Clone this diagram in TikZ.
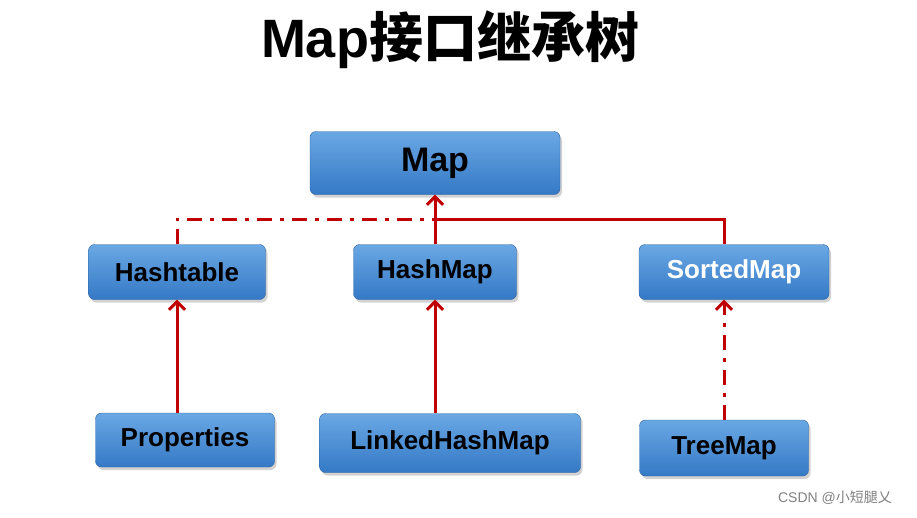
\documentclass[tikz,border=0pt]{standalone}
\usepackage{fontspec}
\setmainfont{Liberation Sans}
\newfontfamily\cjk{Noto Sans CJK SC}
\usetikzlibrary{arrows.meta,shadows}
\definecolor{boxtop}{HTML}{6AA8E4}
\definecolor{boxbot}{HTML}{3579C6}
\definecolor{lred}{HTML}{C00000}
\tikzset{
  cls/.style={rounded corners=6pt, top color=boxtop, bottom color=boxbot, draw=boxbot!80!black, line width=0.4pt,
    drop shadow={opacity=0.35, shadow xshift=2pt, shadow yshift=-3pt},
    font=\fontsize{26}{30}\selectfont\bfseries, text=black, inner sep=0pt},
  link/.style={draw=lred, line width=3pt},
  dd/.style={dash pattern=on 15pt off 8pt on 4pt off 8pt},
  arr/.style={-{Straight Barb[length=8pt,width=16pt,line width=3pt]}}
}
\begin{document}
\begin{tikzpicture}[x=1pt,y=-1pt]
\path[use as bounding box, fill=white] (0,0) rectangle (917,517);
\node (title) at (450,40) {\fontsize{54}{60}\selectfont\bfseries Map{\cjk 接口继承树}};
\node[cls, minimum width=250pt, minimum height=63pt, font=\fontsize{34}{38}\selectfont\bfseries] (map) at (435,163) {Map};
\node[cls, minimum width=177pt, minimum height=55pt] (ht) at (177,272) {Hashtable};
\node[cls, minimum width=163pt, minimum height=55pt] (hm) at (435,272) {HashMap};
\node[cls, minimum width=190pt, minimum height=55pt, text=white] (sm) at (734,272) {SortedMap};
\node[cls, minimum width=179pt, minimum height=54pt] (pr) at (185,440) {Properties};
\node[cls, minimum width=261pt, minimum height=59pt] (lhm) at (450,443) {LinkedHashMap};
\node[cls, minimum width=169pt, minimum height=56pt] (tm) at (724,448) {TreeMap};
\coordinate (j) at (435,219);
\draw[link, dd] (ht.north) |- (j);
\draw[link] (j) -| (sm.north -| 724,0);
\draw[link, arr] (hm.north) -- (map.south);
\draw[link, arr] (pr.north -| ht.south) -- (ht.south);
\draw[link, arr] (lhm.north -| hm.south) -- (hm.south);
\draw[link, dd, arr] (tm.north) -- (tm.north |- sm.south);
\node[text=gray, font=\fontsize{14}{16}\selectfont] (wm) at (835,498) {CSDN @{\cjk 小短腿乂}};
\end{tikzpicture}
\end{document}
